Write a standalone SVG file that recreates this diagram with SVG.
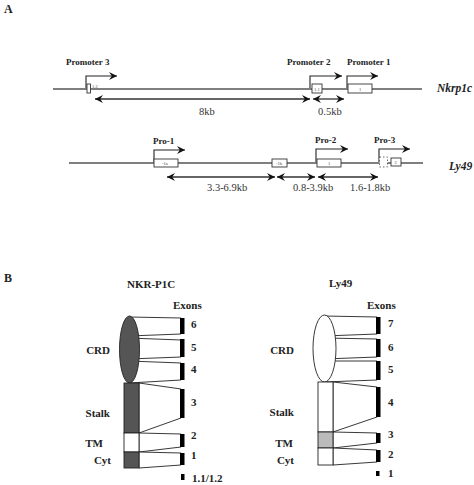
<svg xmlns="http://www.w3.org/2000/svg" width="474" height="485" viewBox="0 0 474 485">
<defs>
<marker id="ah" viewBox="0 0 10 10" refX="10" refY="5" markerWidth="10" markerHeight="8" markerUnits="userSpaceOnUse" orient="auto-start-reverse">
<path d="M0,0 L10,5 L0,10 L3.5,5 z" fill="#111"/>
</marker>
<style>
.t{font-family:"Liberation Serif",serif;fill:#222}
.b{font-weight:bold}
.lbl{font-size:11px;font-weight:bold}
.pro{font-size:9px;font-weight:bold}
.kb{font-size:10.5px;fill:#333}
.gene{font-size:11.5px;font-weight:bold;font-style:italic}
.tiny{font-size:4.5px;fill:#444}
.line{stroke:#555;stroke-width:1.3;fill:none}
.dbl{stroke:#333;stroke-width:1.3;fill:none;marker-start:url(#ah);marker-end:url(#ah)}
.parr{stroke:#222;stroke-width:1.1;fill:none;marker-end:url(#ah)}
.ex{fill:#fff;stroke:#333;stroke-width:0.9}
.bar{fill:#000}
.trap{fill:#fff;stroke:#222;stroke-width:0.9}
</style>
</defs>
<rect width="474" height="485" fill="#fff"/>

<text class="t b" x="4" y="13" font-size="12">A</text>

<!-- Nkrp1c -->
<g id="nkrp1c">
<line class="line" x1="53" y1="89" x2="422" y2="89"/>
<text class="t gene" x="437" y="92">Nkrp1c</text>
</g>
<g id="promoter3">
<text class="t pro" x="66" y="65">Promoter 3</text>
<path class="parr" d="M86,88 V76 H117"/>
<rect class="ex" x="87" y="84" width="3.5" height="9"/>
<text class="t tiny" x="92" y="88">1.2</text>
</g>
<g id="promoter2">
<text class="t pro" x="287" y="65">Promoter 2</text>
<path class="parr" d="M310,88 V76 H342"/>
<rect class="ex" x="312" y="84" width="10" height="9"/>
<text class="t tiny" x="314" y="91">1.1</text>
</g>
<g id="promoter1">
<text class="t pro" x="347" y="65">Promoter 1</text>
<path class="parr" d="M347,88 V76 H378"/>
<rect class="ex" x="348" y="84" width="24" height="9"/>
<text class="t tiny" x="359" y="91">1</text>
</g>

<!-- Ly49 -->
<g id="ly49">
<line class="line" x1="69" y1="163" x2="423" y2="163"/>
<text class="t gene" x="449" y="170">Ly49</text>
</g>
<g id="pro1">
<text class="t pro" x="153" y="144">Pro-1</text>
<path class="parr" d="M154,162 V150 H185"/>
<rect class="ex" x="154" y="159" width="24" height="8"/>
<text class="t tiny" x="162" y="165">-1a</text>
</g>
<g id="ex1b">
<rect class="ex" x="272" y="159" width="15" height="8"/>
<text class="t tiny" x="276" y="165">-1b</text>
</g>
<g id="pro2">
<text class="t pro" x="315" y="143">Pro-2</text>
<path class="parr" d="M316,162 V149 H348"/>
<rect class="ex" x="317" y="159" width="24" height="8"/>
<text class="t tiny" x="328" y="165">1</text>
</g>
<g id="pro3">
<text class="t pro" x="374" y="143">Pro-3</text>
<path class="parr" d="M379,162 V149 H410"/>
<rect x="379.5" y="157" width="8" height="10" fill="#fff" stroke="#444" stroke-width="0.8" stroke-dasharray="1.5,2"/>
<rect class="ex" x="391" y="158" width="10" height="8"/>
<text class="t tiny" x="394.5" y="164">2</text>
</g>

<g id="connectors">
<line class="dbl" x1="95" y1="99" x2="310" y2="99"/>
<line class="dbl" x1="313" y1="99" x2="344" y2="99"/>
<line class="dbl" x1="167" y1="177" x2="275" y2="177"/>
<line class="dbl" x1="277" y1="177" x2="315" y2="177"/>
<line class="dbl" x1="318" y1="177" x2="378" y2="177"/>
</g>
<text class="t kb" x="199" y="115">8kb</text>
<text class="t kb" x="318" y="115">0.5kb</text>
<text class="t kb" x="207" y="191">3.3-6.9kb</text>
<text class="t kb" x="293" y="191">0.8-3.9kb</text>
<text class="t kb" x="350" y="191">1.6-1.8kb</text>

<!-- Panel B -->
<text class="t b" x="4" y="282" font-size="12">B</text>

<g id="nkrp1c-protein">
<text class="t lbl" x="127" y="288">NKR-P1C</text>
<text class="t lbl" x="173" y="309">Exons</text>
<polygon class="trap" points="129,317 181,318 181,334 129,336"/>
<polygon class="trap" points="129,338 181,340 181,357 129,359"/>
<polygon class="trap" points="129,361 181,363 181,380 129,383"/>
<polygon class="trap" points="139,383 181,389 181,418 139,433"/>
<polygon class="trap" points="139,433 181,434 181,447 139,452"/>
<polygon class="trap" points="139,452 181,453 181,465 139,468"/>
<ellipse cx="129.5" cy="349.5" rx="10" ry="33.5" fill="#555" stroke="#222" stroke-width="0.9"/>
<rect x="124" y="383" width="15" height="50" fill="#555" stroke="#222" stroke-width="0.9"/>
<rect x="124" y="433" width="15" height="19" fill="#fff" stroke="#222" stroke-width="0.9"/>
<rect x="124" y="452" width="15" height="16" fill="#555" stroke="#222" stroke-width="0.9"/>
<rect class="bar" x="180" y="318" width="4.5" height="16"/>
<rect class="bar" x="180" y="339" width="4.5" height="18"/>
<rect class="bar" x="180" y="363" width="4.5" height="17"/>
<rect class="bar" x="180" y="389" width="4.5" height="29"/>
<rect class="bar" x="180" y="434" width="4.5" height="13"/>
<rect class="bar" x="180" y="453" width="4.5" height="12"/>
<rect class="bar" x="181" y="474" width="3.5" height="6"/>
<text class="t lbl" x="191" y="328">6</text>
<text class="t lbl" x="191" y="351">5</text>
<text class="t lbl" x="191" y="373">4</text>
<text class="t lbl" x="191" y="406">3</text>
<text class="t lbl" x="191" y="439">2</text>
<text class="t lbl" x="191" y="459">1</text>
<text class="t lbl" x="192" y="482">1.1/1.2</text>
<g text-anchor="end">
<text class="t lbl" x="110" y="354">CRD</text>
<text class="t lbl" x="110" y="417">Stalk</text>
<text class="t lbl" x="103" y="447">TM</text>
<text class="t lbl" x="111" y="464">Cyt</text>
</g>
</g>

<g id="ly49-protein">
<text class="t lbl" x="329" y="287">Ly49</text>
<text class="t lbl" x="367" y="309">Exons</text>
<polygon class="trap" points="324,316 377,317 377,334 324,336"/>
<polygon class="trap" points="324,338 377,339 377,357 324,359"/>
<polygon class="trap" points="324,361 377,361 377,380 324,382"/>
<polygon class="trap" points="333,382 377,387 377,417 333,432"/>
<polygon class="trap" points="333,432 377,433 377,443 333,448"/>
<polygon class="trap" points="333,448 377,450 377,462 333,465"/>
<ellipse cx="324.5" cy="348.5" rx="11.5" ry="33.5" fill="#fff" stroke="#222" stroke-width="0.9"/>
<rect x="318" y="382" width="15" height="50" fill="#fff" stroke="#222" stroke-width="0.9"/>
<rect x="318" y="432" width="15" height="16" fill="#bbb" stroke="#222" stroke-width="0.9"/>
<rect x="318" y="448" width="15" height="17" fill="#fff" stroke="#222" stroke-width="0.9"/>
<rect class="bar" x="376" y="317" width="4.5" height="17"/>
<rect class="bar" x="376" y="339" width="4.5" height="18"/>
<rect class="bar" x="376" y="361" width="4.5" height="19"/>
<rect class="bar" x="376" y="387" width="4.5" height="30"/>
<rect class="bar" x="376" y="433" width="4.5" height="10"/>
<rect class="bar" x="376" y="450" width="4.5" height="12"/>
<rect class="bar" x="376" y="471" width="3.5" height="5"/>
<text class="t lbl" x="388" y="327">7</text>
<text class="t lbl" x="388" y="351">6</text>
<text class="t lbl" x="388" y="373">5</text>
<text class="t lbl" x="388" y="406">4</text>
<text class="t lbl" x="388" y="438">3</text>
<text class="t lbl" x="388" y="458">2</text>
<text class="t lbl" x="388" y="477">1</text>
<g text-anchor="end">
<text class="t lbl" x="294" y="354">CRD</text>
<text class="t lbl" x="294" y="416">Stalk</text>
<text class="t lbl" x="293" y="447">TM</text>
<text class="t lbl" x="294" y="464">Cyt</text>
</g>
</g>
</svg>
